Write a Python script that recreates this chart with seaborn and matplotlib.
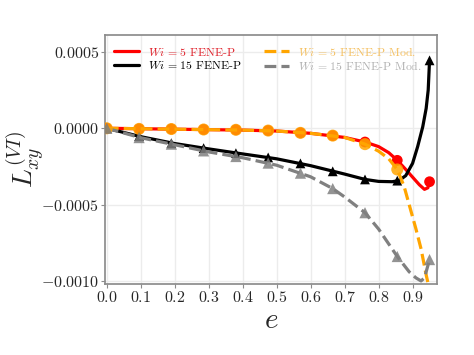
import numpy as np
import pandas as pd
import seaborn as sns
from matplotlib import pyplot as plt
from matplotlib.lines import Line2D

# marker positions (eccentricity)
e_pts = [0.0, 0.095, 0.19, 0.285, 0.38, 0.475, 0.57, 0.665, 0.76, 0.855, 0.95]
wi5 = [0.0, -0.000004, -0.000005, -0.000008, -0.00001, -0.000015, -0.00003, -0.000048, -0.00009, -0.00021, -0.00035]
wi5_mod = [0.0, -0.000004, -0.000005, -0.000008, -0.00001, -0.000015, -0.00003, -0.000048, -0.000104, -0.00027, -0.00106]
wi15 = [0.0, -0.000052, -0.000098, -0.00013, -0.000163, -0.000191, -0.00023, -0.000282, -0.000335, -0.000343, 0.000445]
wi15_mod = [0.0, -0.000061, -0.000104, -0.000148, -0.000185, -0.000228, -0.000294, -0.000395, -0.000553, -0.00084, -0.00086]

# smooth curves
e_red = [0.0, 0.1, 0.2, 0.3, 0.4, 0.5, 0.6, 0.7, 0.76, 0.8, 0.83, 0.855, 0.88, 0.9, 0.92, 0.935, 0.945, 0.95]
red_line = [0.0, -0.000003, -0.000006, -0.000009, -0.000012, -0.000018, -0.000033, -0.00006, -0.00009, -0.00012,
            -0.00016, -0.00021, -0.00027, -0.00032, -0.00037, -0.0004, -0.00039, -0.00035]
e_orange = [0.0, 0.1, 0.2, 0.3, 0.4, 0.5, 0.6, 0.7, 0.76, 0.8, 0.83, 0.855, 0.875, 0.895, 0.91, 0.925, 0.94, 0.95]
orange_line = [0.0, -0.000003, -0.000006, -0.000009, -0.000012, -0.000018, -0.000033, -0.00006, -0.000104, -0.00015,
               -0.0002, -0.00027, -0.00038, -0.00054, -0.00066, -0.00079, -0.00096, -0.00106]
e_black = [0.0, 0.1, 0.2, 0.3, 0.4, 0.5, 0.6, 0.7, 0.76, 0.8, 0.84, 0.86, 0.88, 0.9, 0.915, 0.93, 0.94, 0.946, 0.95]
black_line = [0.0, -0.000055, -0.0001, -0.000135, -0.000168, -0.0002, -0.000245, -0.0003, -0.000335, -0.000348,
              -0.00035, -0.000343, -0.00031, -0.00023, -0.00012, 0.00001, 0.00013, 0.00025, 0.000445]
e_gray = [0.0, 0.1, 0.2, 0.3, 0.4, 0.5, 0.6, 0.665, 0.7, 0.76, 0.8, 0.855, 0.89, 0.91, 0.925, 0.935, 0.945, 0.95]
gray_line = [0.0, -0.000062, -0.000108, -0.000155, -0.000193, -0.000242, -0.000318, -0.000395, -0.00045, -0.000553,
             -0.00066, -0.00084, -0.00094, -0.00098, -0.001, -0.00098, -0.0009, -0.00086]

sns.set_theme(style='whitegrid')
plt.rcParams['font.family'] = ['cmr10', 'DejaVu Serif']
plt.rcParams['mathtext.fontset'] = 'cm'
plt.rcParams['axes.formatter.use_mathtext'] = True
plt.rcParams['axes.edgecolor'] = '#8c8c8c'
plt.rcParams['grid.color'] = '#ececec'

fig = plt.figure(figsize=(4.74, 3.55), dpi=100)
ax = fig.add_axes([0.221, 0.2, 0.701, 0.701])

lw = 2.3
sns.lineplot(x=e_red, y=red_line, color='red', lw=lw, ax=ax, sort=False, zorder=2)
sns.scatterplot(x=e_pts, y=wi5, color='red', marker='o', s=60, edgecolor='none', ax=ax, zorder=3)
sns.lineplot(x=e_black, y=black_line, color='black', lw=lw, ax=ax, sort=False, zorder=2)
sns.scatterplot(x=e_pts, y=wi15, color='black', marker='^', s=50, edgecolor='none', ax=ax, zorder=3)
sns.lineplot(x=e_orange, y=orange_line, color='orange', lw=lw, linestyle='--', ax=ax, sort=False, zorder=4)
sns.scatterplot(x=e_pts, y=wi5_mod, color='orange', marker='o', s=75, edgecolor='none', alpha=0.85, ax=ax, zorder=5)
sns.lineplot(x=e_gray, y=gray_line, color='gray', lw=lw, linestyle='--', ax=ax, sort=False, zorder=4)
sns.scatterplot(x=e_pts, y=wi15_mod, color='gray', marker='^', s=65, edgecolor='none', alpha=0.85, ax=ax, zorder=5)

ax.set_xlim(-0.006, 0.972)
ax.set_ylim(-0.00102, 0.00061)
ax.set_xticks(np.arange(0, 1.0, 0.1))
ax.set_yticks([-0.001, -0.0005, 0.0, 0.0005])
ax.set_yticklabels(['$-0.0010$', '$-0.0005$', '$0.0000$', '$0.0005$'])
ax.set_xticklabels(['$%.1f$' % v for v in np.arange(0, 1.0, 0.1)])
ax.tick_params(axis='both', labelsize=11.5, length=3, width=0.8, color='#8c8c8c', pad=1, direction='out',
               bottom=True, left=True)
ax.set_xlabel('$e$', fontsize=21, labelpad=2)
ax.set_ylabel('$L_{xy}^{(VI)}$', fontsize=20)
ax.yaxis.set_label_coords(-0.178, 0.5)

handles = [Line2D([], [], color='red', lw=lw),
           Line2D([], [], color='black', lw=lw),
           Line2D([], [], color='orange', lw=lw, ls='--'),
           Line2D([], [], color='gray', lw=lw, ls='--')]
labels = ['$Wi\\,=\\,5$ FENE-P', '$Wi\\,=\\,15$ FENE-P', '$Wi\\,=\\,5$ FENE-P Mod.', '$Wi\\,=\\,15$ FENE-P Mod.']
leg = ax.legend(handles, labels, loc='upper left', ncol=2, frameon=False, fontsize=8.5,
                handlelength=2.1, columnspacing=1.9, handletextpad=0.75, labelspacing=0.12,
                borderaxespad=0.4, bbox_to_anchor=(0.0, 1.0))
for txt, c in zip(leg.get_texts(), ['#e0202a', 'black', '#f5c060', '#b0b0b0']):
    txt.set_color(c)

plt.savefig('out.png', dpi=100)
